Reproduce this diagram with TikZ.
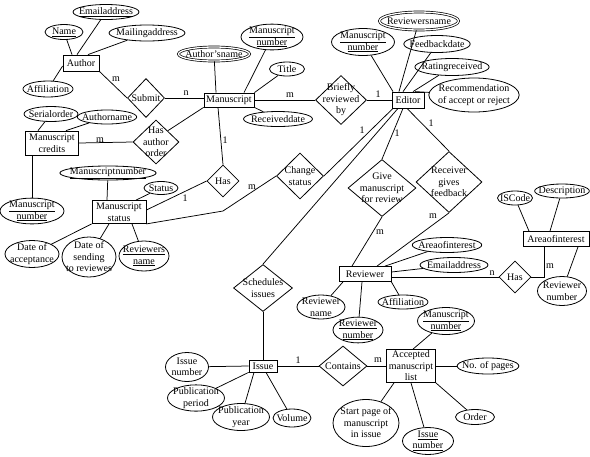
\documentclass[tikz,border=0pt]{standalone}
\usepackage{fontspec}
\setmainfont{Liberation Serif}
\usetikzlibrary{shapes.geometric}
\newcommand{\erfont}{\fontsize{10}{11.5}\selectfont}
\tikzset{
  sz/.style 2 args={minimum width=#1pt, minimum height=#2pt},
  ent/.style={rectangle, draw, line width=0.8pt, inner sep=1pt, font=\erfont, align=center},
  rel/.style={diamond, draw, line width=0.8pt, inner sep=-6pt, font=\erfont, align=center},
  attr/.style={ellipse, draw, line width=0.8pt, inner xsep=-4pt, inner ysep=-1pt, font=\erfont, align=center},
  mattr/.style={attr, double, double distance=1.3pt, line width=0.7pt},
  card/.style={font=\erfont, inner sep=0pt},
  ln/.style={draw, line width=0.75pt},
}
\begin{document}
\begin{tikzpicture}[x=1pt,y=-1pt]
  \useasboundingbox (0,0) rectangle (590,456);
  % entities
  \node[ent, sz={36}{16}] (author) at (81,63) {Author};
  \node[ent, sz={50}{14}] (manu) at (229,100) {Manuscript};
  \node[ent, sz={32}{16}] (editor) at (408,100) {Editor};
  \node[ent, sz={53}{24}] (credits) at (52,143) {Manuscript\\credits};
  \node[ent, sz={54}{23}] (mstatus) at (119,212) {Manuscript\\status};
  \node[ent, sz={52}{15}] (reviewer) at (365,274) {Reviewer};
  \node[ent, sz={66}{15}] (area) at (556,239) {Areaofinterest};
  \node[ent, sz={28}{12}] (issue) at (263,366) {Issue};
  \node[ent, sz={49}{33}] (accepted) at (411,366) {Accepted\\manuscript\\list};
  % relationships
  \node[rel, sz={37}{39}] (submit) at (146,98) {Submit};
  \node[rel, sz={46}{44}] (hao) at (156,142) {Has\\author\\order};
  \node[rel, sz={51}{49}] (briefly) at (341,100) {Briefly\\reviewed\\by};
  \node[rel, sz={32}{32}] (hasms) at (223,181) {Has};
  \node[rel, sz={47}{46}] (chstat) at (300,176) {Change\\status};
  \node[rel, sz={68}{57}] (give) at (382,188) {Give\\manuscript\\for review};
  \node[rel, sz={66}{61}] (feedback) at (449,182) {Receiver\\gives\\feedback};
  \node[rel, sz={59}{47}] (sched) at (263,288) {Schedules\\issues};
  \node[rel, sz={32}{32}] (hasarea) at (515,277) {Has};
  \node[rel, sz={48}{40}] (contains) at (343,366) {Contains};
  % attributes
  \node[attr, sz={66}{15}] (a_email) at (106,12) {\underline{Emailaddress}};
  \node[attr, sz={38}{15}] (a_name) at (64,32) {\underline{Name}};
  \node[attr, sz={75}{16}] (a_mail) at (147,33) {Mailingaddress};
  \node[attr, sz={50}{16}] (a_affil) at (48,89) {Affiliation};
  \node[attr, sz={54}{15}] (c_serial) at (51,114) {Serialorder};
  \node[attr, sz={56}{14}] (c_authname) at (107,117) {Authorname};
  \node[attr, sz={64}{24}] (c_mnum) at (32,211) {\underline{Manuscript}\\\underline{number}};
  \node[mattr, sz={71}{14}] (m_authname) at (214,54) {Author'sname};
  \node[attr, sz={62}{25}] (m_mnum) at (272,37) {\underline{Manuscript}\\\underline{number}};
  \node[attr, sz={35}{14}] (m_title) at (287,69) {Title};
  \node[attr, sz={69}{15}] (m_recv) at (278,119) {Receiveddate};
  \node[attr, sz={63}{27}] (e_mnum) at (363,42) {\underline{Manuscript}\\\underline{number}};
  \node[mattr, sz={77}{18}] (e_revname) at (419,21) {Reviewersname};
  \node[attr, sz={63}{17}] (e_fbdate) at (437,44) {Feedbackdate};
  \node[attr, sz={68}{17}] (e_rating) at (452,67) {Ratingreceived};
  \node[attr, sz={87}{34}] (e_recom) at (474,95) {Recommendation\\of accept or reject};
  \node[attr, sz={91}{14}] (s_mnum) at (108,173) {\underline{Manuscriptnumber}};
  \node[attr, sz={34}{13}] (s_status) at (161,188) {Status};
  \node[attr, sz={54}{27}] (s_accept) at (32,254) {Date of\\acceptance};
  \node[attr, sz={54}{40}] (s_send) at (89,257) {Date of\\sending\\to reviewes};
  \node[attr, sz={50}{30}] (s_revname) at (144,256) {\underline{Reviewers}\\\underline{name}};
  \node[attr, sz={69}{15}] (r_area) at (447,245) {Areaofinterest};
  \node[attr, sz={68}{15}] (r_email) at (454,265) {Emailaddress};
  \node[attr, sz={48}{24}] (r_name) at (321,307) {Reviewer\\name};
  \node[attr, sz={50}{24}] (r_num) at (358,330) {\underline{Reviewer}\\\underline{number}};
  \node[attr, sz={50}{14}] (r_affil) at (403,302) {Affiliation};
  \node[attr, sz={57}{27}] (l_mnum) at (446,321) {\underline{Manuscript}\\\underline{number}};
  \node[attr, sz={58}{16}] (l_pages) at (488,366) {No. of pages};
  \node[attr, sz={39}{15}] (l_order) at (475,417) {Order};
  \node[attr, sz={51}{27}] (l_issnum) at (428,441) {\underline{Issue}\\\underline{number}};
  \node[attr, sz={66}{47}] (l_start) at (366,423) {Start page of\\manuscript\\in issue};
  \node[attr, sz={35}{14}] (ar_code) at (515,198) {ISCode};
  \node[attr, sz={53}{14}] (ar_desc) at (562,191) {Description};
  \node[attr, sz={49}{29}] (ar_rnum) at (562,291) {Reviewer\\number};
  \node[attr, sz={43}{29}] (i_num) at (187,367) {Issue\\number};
  \node[attr, sz={57}{26}] (i_period) at (196,398) {Publication\\period};
  \node[attr, sz={57}{27}] (i_year) at (241,417) {Publication\\year};
  \node[attr, sz={38}{18}] (i_vol) at (292,418) {Volume};
  % cardinalities
  \node[card] (k1) at (116,79) {m};
  \node[card] (k2) at (186,93) {n};
  \node[card] (k3) at (100,140) {m};
  \node[card] (k4) at (290,95) {m};
  \node[card] (k5) at (378,94) {1};
  \node[card] (k6) at (225,140) {1};
  \node[card] (k7) at (185,198) {1};
  \node[card] (k8) at (252,187) {m};
  \node[card] (k9) at (362,130) {1};
  \node[card] (k10) at (397,133) {1};
  \node[card] (k11) at (431,123) {1};
  \node[card] (k12) at (380,232) {m};
  \node[card] (k13) at (433,216) {m};
  \node[card] (k14) at (298,360) {1};
  \node[card] (k15) at (378,360) {m};
  \node[card] (k16) at (492,273) {n};
  \node[card] (k17) at (550,266) {m};
  \coordinate (bend) at (223,211);
  % relationship lines
  \draw[ln] (author.south east) -- (submit.west);
  \draw[ln] (submit.east) -- (submit.east -| manu.west);
  \draw[ln] (hao.north east) -- (manu.south west);
  \draw[ln] (credits.east) -- (hao.west);
  \draw[ln] (c_mnum.north |- credits.south) -- (c_mnum.north);
  \draw[ln] (manu.east) -- (briefly.west);
  \draw[ln] (briefly.east) -- (editor.west);
  \draw[ln] ([xshift=-11pt]manu.south) -- (hasms.north);
  \draw[ln] (hasms.west) -- ([yshift=2pt]mstatus.east);
  \draw[ln] (mstatus.south east) -- (bend) -- (chstat.west);
  \draw[ln] (chstat.east) -- ([xshift=-15pt]editor.south);
  \draw[ln] (sched.north) -- ([xshift=-10pt]editor.south);
  \draw[ln] (give.north) -- ([xshift=-5pt]editor.south);
  \draw[ln] (feedback.north) -- ([xshift=-1pt]editor.south);
  \draw[ln] (give.south) -- ([xshift=-13pt]reviewer.north);
  \draw[ln] (feedback.south) -- ([xshift=12pt]reviewer.north);
  \draw[ln] (sched.south) -- (issue.north);
  \draw[ln] (issue.east) -- (contains.west);
  \draw[ln] (contains.east) -- (accepted.west);
  \draw[ln] ([yshift=-3pt]reviewer.east) -- (hasarea.west);
  \draw[ln] (hasarea.east) -| ([xshift=-12pt]area.south);
  % attribute lines
  \draw[ln] ([xshift=-4pt]author.north) -- (a_email);
  \draw[ln] ([xshift=-9pt]author.north) -- (a_name);
  \draw[ln] ([xshift=7pt]author.north) -- (a_mail);
  \draw[ln] ([yshift=-3pt]author.west) -- (a_affil);
  \draw[ln] ([xshift=-14pt]credits.north) -- (c_serial);
  \draw[ln] ([xshift=14pt]credits.north) -- (c_authname);
  \draw[ln] ([xshift=-13pt]manu.north) -- (m_authname);
  \draw[ln] ([xshift=15pt]manu.north) -- (m_mnum);
  \draw[ln] (manu.north east) -- (m_title);
  \draw[ln] (manu.south east) -- (m_recv);
  \draw[ln] ([xshift=-15pt]editor.north) -- (e_mnum);
  \draw[ln] ([xshift=-9pt]editor.north) -- (e_revname);
  \draw[ln] ([xshift=-5pt]editor.north) -- (e_fbdate);
  \draw[ln] ([xshift=5pt]editor.north) -- (e_rating);
  \draw[ln] ([xshift=7pt]editor.north) -- (e_recom);
  \draw[ln] ([xshift=-12pt]mstatus.north) -- (s_mnum);
  \draw[ln] ([xshift=17pt]mstatus.north) -- (s_status);
  \draw[ln] (mstatus.south west) -- (s_accept);
  \draw[ln] ([xshift=-10pt]mstatus.south) -- (s_send);
  \draw[ln] ([xshift=13pt]mstatus.south) -- (s_revname);
  \draw[ln] ([xshift=20pt]reviewer.north) -- (r_area);
  \draw[ln] ([yshift=2pt]reviewer.east) -- (r_email);
  \draw[ln] ([xshift=-22pt]reviewer.south) -- (r_name);
  \draw[ln] ([xshift=-3pt]reviewer.south) -- (r_num);
  \draw[ln] (reviewer.south east) -- (r_affil);
  \draw[ln] ([xshift=2pt]accepted.north) -- (l_mnum);
  \draw[ln] (accepted.east) -- (l_pages);
  \draw[ln] (accepted.south east) -- (l_order);
  \draw[ln] (accepted.south) -- (l_issnum);
  \draw[ln] ([xshift=-17pt]accepted.south) -- (l_start);
  \draw[ln] ([xshift=-27pt]area.north) -- (ar_code);
  \draw[ln] ([xshift=-6pt]area.north) -- (ar_desc);
  \draw[ln] ([xshift=22pt]area.south) -- (ar_rnum);
  \draw[ln] (issue.west) -- (i_num);
  \draw[ln] (issue.south west) -- (i_period);
  \draw[ln] ([xshift=-9pt]issue.south) -- (i_year);
  \draw[ln] ([xshift=3pt]issue.south) -- (i_vol);
\end{tikzpicture}
\end{document}
